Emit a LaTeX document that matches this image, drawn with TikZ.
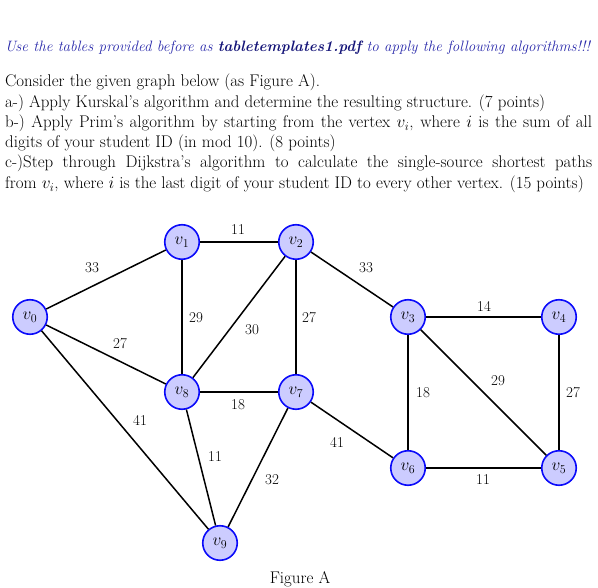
\documentclass[tikz,border=0pt]{standalone}
\usepackage{fontspec}
\definecolor{nodefill}{RGB}{204,204,255}
\definecolor{nodeline}{RGB}{10,10,250}
\definecolor{headblue}{RGB}{40,40,170}
\definecolor{headbold}{RGB}{20,20,120}
\begin{document}
\begin{tikzpicture}[x=1pt,y=-1pt,
  vert/.style={circle, draw=nodeline, fill=nodefill, line width=1.6pt, minimum size=34.5pt, inner sep=0pt, font=\fontsize{17.5}{17.5}\selectfont},
  edge/.style={line width=1.5pt, black},
  wlab/.style={inner sep=0pt, font=\fontsize{15}{15}\selectfont},
  txt/.style={anchor=base west, inner sep=0pt, font=\fontsize{16.9}{20}\selectfont}]
\useasboundingbox (0,0) rectangle (598,588);
% text
\node[txt, text=headblue, font=\fontsize{15}{20}\selectfont\itshape] (t0) at (5,52) {\resizebox{585pt}{!}{Use the tables provided before as {\bfseries\color{headbold}tabletemplates1.pdf} to apply the following algorithms!!!}};
\node[txt] (t1) at (5,87) {Consider the given graph below (as Figure A).};
\node[txt] (t2) at (5,107.5) {a-) Apply Kurskal's algorithm and determine the resulting structure. (7 points)};
\node[txt] (t3) at (5,128) {\makebox[587pt][s]{b-) Apply Prim's algorithm by starting from the vertex $v_i$, where $i$ is the sum of all}};
\node[txt] (t4) at (5,148) {digits of your student ID (in mod 10). (8 points)};
\node[txt] (t5) at (5,168) {\makebox[587pt][s]{c-)Step through Dijkstra's algorithm to calculate the single-source shortest paths}};
\node[txt] (t6) at (5,188.5) {from $v_i$, where $i$ is the last digit of your student ID to every other vertex. (15 points)};
% vertices
\node[vert] (v0) at (30,317) {$v_0$};
\node[vert] (v1) at (182,242) {$v_1$};
\node[vert] (v2) at (296,242) {$v_2$};
\node[vert] (v3) at (408,317) {$v_3$};
\node[vert] (v4) at (559,317) {$v_4$};
\node[vert] (v5) at (559,468) {$v_5$};
\node[vert] (v6) at (408,468) {$v_6$};
\node[vert] (v7) at (296,392) {$v_7$};
\node[vert] (v8) at (182,392) {$v_8$};
\node[vert] (v9) at (220,543) {$v_9$};
% edges
\draw[edge] (v0) -- (v1);
\draw[edge] (v0) -- (v8);
\draw[edge] (v0) -- (v9);
\draw[edge] (v1) -- (v2);
\draw[edge] (v1) -- (v8);
\draw[edge] (v2) -- (v8);
\draw[edge] (v2) -- (v7);
\draw[edge] (v2) -- (v3);
\draw[edge] (v8) -- (v7);
\draw[edge] (v8) -- (v9);
\draw[edge] (v7) -- (v9);
\draw[edge] (v7) -- (v6);
\draw[edge] (v3) -- (v4);
\draw[edge] (v3) -- (v6);
\draw[edge] (v3) -- (v5);
\draw[edge] (v4) -- (v5);
\draw[edge] (v6) -- (v5);
% weights
\node[wlab] (w01) at (92,268) {33};
\node[wlab] (w12) at (238,230) {11};
\node[wlab] (w18) at (196,318) {29};
\node[wlab] (w28) at (252,330) {30};
\node[wlab] (w27) at (309,318) {27};
\node[wlab] (w08) at (120,344) {27};
\node[wlab] (w09) at (140,420) {41};
\node[wlab] (w87) at (238,405) {18};
\node[wlab] (w89) at (215,457) {11};
\node[wlab] (w79) at (272,480) {32};
\node[wlab] (w76) at (337,442) {41};
\node[wlab] (w23) at (366,268) {33};
\node[wlab] (w34) at (484,306) {14};
\node[wlab] (w36) at (423,393) {18};
\node[wlab] (w35) at (498,381) {29};
\node[wlab] (w45) at (573,393) {27};
\node[wlab] (w65) at (483,480) {11};
\node[anchor=base, inner sep=0pt, font=\fontsize{16.9}{20}\selectfont] (cap) at (300,583) {Figure A};
\end{tikzpicture}
\end{document}
